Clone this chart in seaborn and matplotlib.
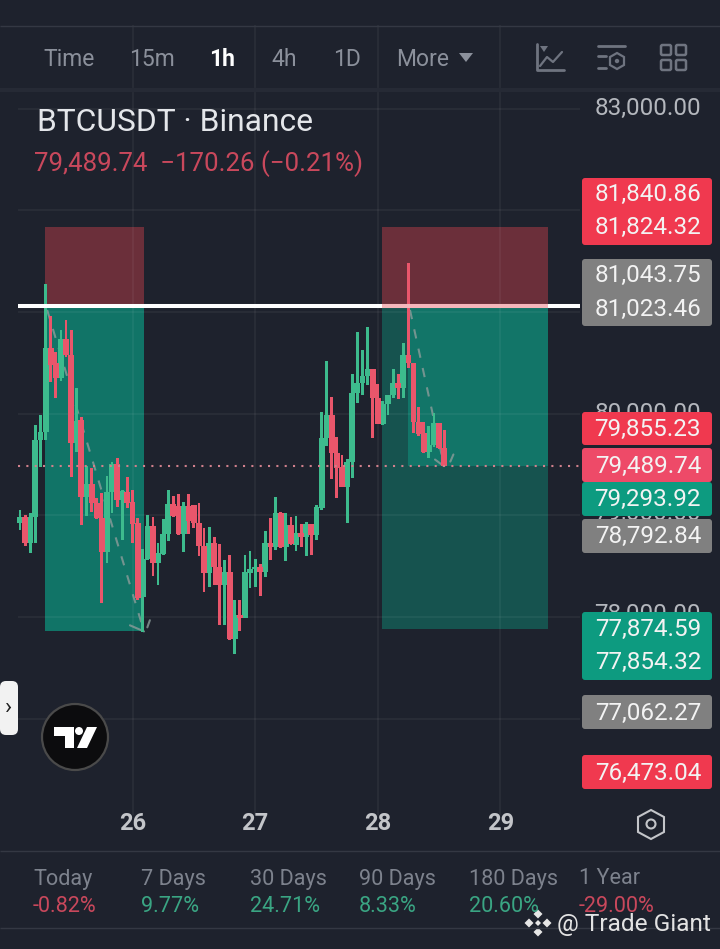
import numpy as np
import pandas as pd
import matplotlib
matplotlib.use("Agg")
import matplotlib.pyplot as plt
from matplotlib.patches import FancyBboxPatch, Circle, Polygon
import seaborn as sns

# hourly candles, hour 0 = start of the 26th
hours = list(range(-22, 62))
opens = [78922, 78988, 78732, 78988, 79742, 79824, 80643, 80496, 80348, 80735, 80578, 79709,
         79939, 79185, 79309, 79126, 78972, 78644, 79234, 79506, 79152, 79234, 79135, 78922,
         78201, 78568, 78896, 78536, 78621, 78817, 79112, 79093, 78817, 79093, 79103, 78922,
         78700, 78437, 78726, 78490, 78316, 78447, 77782, 78021, 77988, 78437, 78470, 78490,
         78447, 78726, 78686, 79027, 78686, 78906, 78709, 78831, 78785, 78916, 78808, 79070,
         79758, 79988, 79617, 79473, 79283, 79529, 80201, 80299, 80371, 80437, 80152, 79900,
         80097, 80185, 80300, 80251, 80578, 80496, 79923, 79808, 79628, 79693, 79906, 79661]
highs = [79053, 79004, 79021, 79889, 79988, 81276, 80961, 80611, 80824, 80922, 80824, 80250,
         79965, 79486, 79463, 79168, 79217, 79388, 79529, 79562, 79250, 79375, 79250, 78972,
         78667, 79004, 78988, 78726, 78962, 79250, 79191, 79208, 79135, 79208, 79103, 79126,
         78873, 78883, 78785, 78719, 78562, 78611, 78168, 78168, 78611, 78650, 78572, 78523,
         78850, 78972, 79185, 79037, 79021, 78988, 78994, 78916, 78939, 78916, 79103, 80021,
         80522, 80161, 79775, 79594, 79552, 80391, 80807, 80627, 80856, 80437, 80293, 80129,
         80185, 80437, 80392, 80700, 81486, 80496, 80064, 79923, 79880, 80005, 79906, 79841]
lows = [78857, 78699, 78634, 78726, 79480, 79742, 80316, 80152, 80325, 80561, 79375, 79627,
        78906, 78994, 79037, 78962, 78136, 78536, 79021, 79080, 78758, 79070, 78726, 78168,
        77857, 78562, 78404, 78316, 78611, 78752, 78988, 78808, 78644, 78817, 78873, 78601,
        78250, 78300, 78316, 77923, 77923, 77775, 77637, 77867, 77988, 78283, 78293, 78208,
        78391, 78562, 78660, 78677, 78552, 78709, 78654, 78693, 78601, 78611, 78758, 79054,
        79683, 79355, 79168, 79283, 78922, 79365, 80103, 80184, 80283, 79759, 79900, 79890,
        79988, 80152, 80142, 80152, 80447, 79815, 79782, 79611, 79562, 79677, 79651, 79487]
closes = [78988, 78726, 78988, 79742, 79824, 80643, 80479, 80348, 80735, 80578, 79709, 79929,
          79185, 79309, 79119, 78972, 78644, 79234, 79506, 79152, 79244, 79126, 78916, 78185,
          78568, 78896, 78536, 78627, 78817, 79112, 78994, 78817, 79093, 78949, 78922, 78700,
          78437, 78726, 78490, 78316, 78447, 77782, 78021, 77988, 78447, 78470, 78490, 78447,
          78726, 78686, 79021, 78686, 78906, 78719, 78831, 78785, 78916, 78808, 79086, 79758,
          79988, 79617, 79463, 79283, 79529, 80201, 80299, 80371, 80437, 80152, 79900, 80097,
          80185, 80300, 80251, 80578, 80496, 79923, 79802, 79628, 79693, 79906, 79661, 79489.74]

# levels and drawn zones
entry_level = 81060
last_price = 79489.74
left_zone = [-17.1, 2.25, 81840, 77860]
right_zone = [48.8, 81.3, 81840, 77880]
right_fill_start = 53.9
path_left_h = [-16.7, 2.25]
path_left_p = [81021, 77860]
path_right_h = [54.3, 61.0]
path_right_p = [81021, 79480]
grid_prices = [83000, 82000, 81000, 80000, 79000, 78000, 77000]
day_hours = [0, 24, 48, 72]
day_labels = ["26", "27", "28", "29"]

# axis labels and tags
axis_prices = [("83,000.00", 108.5), ("80,000.00", 413), ("79,000.00", 513), ("78,000.00", 614.5)]
tag_boxes = [(178, 245, "#f0394f"), (259, 326, "#808080"), (412, 445, "#f0394f"), (448, 482, "#ee4a68"),
             (482, 516, "#0d9b80"), (519, 553, "#808080"), (612, 680, "#0d9b80"), (695, 729, "#808080"),
             (755, 789, "#f0394f")]
tag_texts = [("81,840.86", 194.5), ("81,824.32", 227.5), ("81,043.75", 275.5), ("81,023.46", 309.5),
             ("79,855.23", 429.5), ("79,489.74", 466.5), ("79,293.92", 499.5), ("78,792.84", 536.5),
             ("77,874.59", 629.5), ("77,854.32", 662.5), ("77,062.27", 713), ("76,473.04", 773.5)]
tabs = [("Time", 43), ("15m", 129), ("1h", 209), ("4h", 271), ("1D", 333), ("More", 396)]
stat_names = ["Today", "7 Days", "30 Days", "90 Days", "180 Days", "1 Year"]
stat_values = ["-0.82%", "9.77%", "24.71%", "8.33%", "20.60%", "-29.00%"]
stat_x = [33, 141, 250, 359, 469, 579]
stat_colors = ["#c9485c", "#3aa583", "#3aa583", "#3aa583", "#3aa583", "#c9485c"]

bg = "#1e222d"
up = "#3dbb8d"
down = "#e9566b"

sns.set_theme(style="dark")
plt.rcParams["font.family"] = ["Roboto", "DejaVu Sans"]

df = pd.DataFrame({"hour": hours, "open": opens, "high": highs, "low": lows, "close": closes})
df["top"] = df[["open", "close"]].max(axis=1)
df["bottom"] = df[["open", "close"]].min(axis=1)
df["is_up"] = df["close"] >= df["open"]

fig = plt.figure(figsize=(7.2, 9.49), dpi=100, facecolor=bg)
ax = fig.add_axes([0, 0, 1, 1], facecolor=bg)

# zones
ax.fill_between(left_zone[:2], entry_level, left_zone[2], color="#6b2f3a", lw=0, zorder=1)
ax.fill_between(left_zone[:2], left_zone[3], entry_level, color="#117467", lw=0, zorder=1)
ax.fill_between(right_zone[:2], entry_level, right_zone[2], color="#6b2f3a", lw=0, zorder=1)
ax.fill_between(right_zone[:2], right_zone[3], last_price, color="#16534f", lw=0, zorder=1)
ax.fill_between([right_zone[0], right_fill_start], last_price, entry_level, color="#16534f", lw=0, zorder=1)
ax.fill_between([right_fill_start, right_zone[1]], last_price, entry_level, color="#127568", lw=0, zorder=1)

# faint grid, shows through the zones
ax.hlines(grid_prices, -22.4, 87.6, color="white", alpha=0.06, lw=1.1, zorder=1.5)
ax.vlines(day_hours, 76050, 83820, color="white", alpha=0.06, lw=1.1, zorder=1.5)

# projected paths
sns.lineplot(x=path_left_h, y=path_left_p, ax=ax, color="#8c9c9a", lw=1.5, linestyle=(0, (4.5, 5)),
             sort=False, estimator=None, errorbar=None, alpha=0.8, zorder=2)
sns.lineplot(x=path_right_h, y=path_right_p, ax=ax, color="#8c9c9a", lw=1.5, linestyle=(0, (4.5, 5)),
             sort=False, estimator=None, errorbar=None, alpha=0.8, zorder=2)
ax.plot([-0.5, 2.25], [77920, 77860], color="#8c9c9a", lw=1.5, alpha=0.8, zorder=2)
ax.plot([2.9, 3.4], [77900, 77970], color="#8c9c9a", lw=1.5, alpha=0.8, zorder=2)
ax.plot([59.2, 60.8], [79550, 79490], color="#8c9c9a", lw=1.5, alpha=0.8, zorder=2)
ax.plot([62.2, 62.8], [79530, 79600], color="#8c9c9a", lw=1.5, alpha=0.8, zorder=2)

# candles
for flag, col in [(True, up), (False, down)]:
    part = df[df["is_up"] == flag]
    sns.barplot(x=part["hour"], y=part["high"] - part["low"], bottom=part["low"], ax=ax, native_scale=True,
                color=col, saturation=1, width=0.55, linewidth=0, errorbar=None, zorder=3)
    sns.barplot(x=part["hour"], y=part["top"] - part["bottom"], bottom=part["bottom"], ax=ax, native_scale=True,
                color=col, saturation=1, width=1.15, linewidth=0, errorbar=None, zorder=3)

# levels
ax.hlines(entry_level, -22.4, 87.6, color="white", lw=2.9, zorder=4)
ax.hlines(entry_level, right_zone[0], right_zone[1], color="#f4b6bb", lw=2.9, zorder=4.1)
ax.hlines(last_price, -22.4, 87.6, color="#d0808c", lw=1.5, linestyle=(0, (1, 3)), zorder=4)

ax.set_xlim(-25.93, 114.97)
ax.set_ylim(74737, 84069)
ax.set_axis_off()

# overlay in pixel coordinates for the app chrome
ui = fig.add_axes([0, 0, 1, 1], facecolor="none")
ui.set_xlim(0, 720)
ui.set_ylim(949, 0)
ui.set_axis_off()

ui.hlines([26, 851, 928], 0, 720, color="#343843", lw=1)
ui.hlines(90, 0, 720, color="#262a35", lw=3)

for name, x in tabs:
    is_on = name == "1h"
    ui.text(x, 59, name, color="white" if is_on else "#8b909b", fontsize=16.5, va="center",
            fontweight="bold" if is_on else "normal")
ui.add_patch(Polygon([[459, 53], [473, 53], [466, 62]], color="#8b909b", lw=0))

# toolbar icons
ic = "#6f7480"
ui.plot([537, 537, 564], [44, 70, 70], color=ic, lw=2)
ui.plot([540, 547, 553, 562], [66, 57, 62, 52], color=ic, lw=1.6)
ui.add_patch(Polygon([[540, 46], [548, 46], [544, 52]], color=ic, lw=0))
ui.plot([598, 625], [46, 46], color=ic, lw=2)
ui.plot([598, 606], [56, 56], color=ic, lw=2)
ui.plot([598, 606], [68, 68], color=ic, lw=2)
ui.add_patch(Polygon([[617, 53], [624, 57], [624, 65], [617, 69], [610, 65], [610, 57]], fill=False, ec=ic, lw=1.6))
ui.add_patch(Circle((617, 61), 2.2, color=ic, lw=0))
for bx, by in [(661, 45), (676, 45), (661, 60), (676, 60)]:
    ui.add_patch(FancyBboxPatch((bx, by), 10, 10, boxstyle="round,pad=0,rounding_size=1.5", fill=False, ec=ic, lw=1.8))

ui.text(37, 122, "BTCUSDT · Binance", color="#e4e6ea", fontsize=22.9, va="center")
ui.text(34, 164, "79,489.74  −170.26 (−0.21%)", color="#c9485c", fontsize=18.6, va="center")

for label, y in axis_prices:
    ui.text(701, y, label, color="#b4b7bd", fontsize=17.5, va="center", ha="right", zorder=1)
for y0, y1, col in tag_boxes:
    ui.add_patch(FancyBboxPatch((582, y0), 130, y1 - y0, boxstyle="round,pad=0,rounding_size=3", fc=col, ec="none", zorder=2))
for label, y in tag_texts:
    ui.text(701, y, label, color="#f3f3f3", fontsize=17.5, va="center", ha="right", zorder=3)

# left handle and logo
ui.add_patch(FancyBboxPatch((0, 681), 18, 54, boxstyle="round,pad=0,rounding_size=6", fc="#f2f2f2", ec="none"))
ui.text(9, 708, "›", color="#222222", fontsize=17, ha="center", va="center")
ui.add_patch(Circle((75, 737), 33, fc="#0c0c0e", ec="#4a4a4a", lw=1.6))
ui.add_patch(Polygon([[54, 727], [74, 727], [74, 748], [65, 748], [65, 736], [54, 736]], color="white", lw=0))
ui.add_patch(Circle((79, 731), 4, color="white", lw=0))
ui.add_patch(Polygon([[87, 727], [97, 727], [87, 748], [77, 748]], color="white", lw=0))

# time axis
for h, label in zip(day_hours, day_labels):
    ui.text(132.5 + 5.11 * h, 824, label, color="#c3c5c9", fontsize=17, fontweight="bold", ha="center", va="center")
ui.add_patch(Polygon([[651, 810], [664, 817], [664, 832], [651, 839], [638, 832], [638, 817]], fill=False, ec="#c3c5c9", lw=1.5))
ui.add_patch(Circle((651, 824), 4.5, fill=False, ec="#c3c5c9", lw=1.5))

# return stats
for x, name, val, col in zip(stat_x, stat_names, stat_values, stat_colors):
    ui.text(x, 879, name, color="#7d828d", fontsize=15.6, va="center")
    ui.text(x, 906, val, color=col, fontsize=15.6, va="center")

# watermark
for dx, dy, r in [(0, -9, 4.5), (-9, 0, 4.5), (9, 0, 4.5), (0, 9, 4.5), (0, 0, 3)]:
    ui.add_patch(Polygon([[538 + dx, 923 + dy - r], [538 + dx + r, 923 + dy], [538 + dx, 923 + dy + r], [538 + dx - r, 923 + dy]],
                         color="#e6e6e6", lw=0))
ui.text(557, 924, "@ Trade Giant", color="#e3e3e3", fontsize=17.6, va="center")

fig.savefig("out.png", dpi=100, facecolor=bg)
